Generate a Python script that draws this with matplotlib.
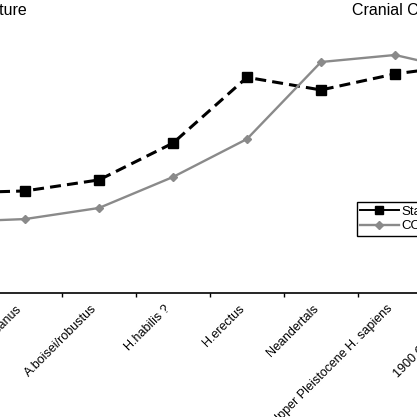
import numpy as np
import matplotlib
matplotlib.use("Agg")
import matplotlib.pyplot as plt
from matplotlib.lines import Line2D

plt.rcParams['font.family'] = ['Liberation Sans', 'DejaVu Sans']

# hominin groups along the x axis
groups = ["A.afarensis", "A.africanus", "A.boisei/robustus", "H.habilis ?",
          "H.erectus", "Neandertals", "Upper Pleistocene H. sapiens",
          "1900 Caucasians"]

# stature (cm) - left axis
stature = [118.0, 118.8, 123.0, 137.0, 162.0, 157.2, 163.3, 167.0]
# cranial capacity (cc) - right axis
cc = [486, 506, 582, 794, 1054, 1581, 1629, 1513]

W, H = 417, 417
fig = plt.figure(figsize=(W / 100, H / 100), dpi=100)

# axes reach past the figure edges (the picture is a crop)
left_px, right_px, bot_px, top_px = -86, 506, 293, 30
ax = fig.add_axes([left_px / W, 1 - bot_px / H,
                   (right_px - left_px) / W, (bot_px - top_px) / H])
ax2 = ax.twinx()

x = np.arange(len(groups))

ax.plot(x, stature, color="black", lw=2.2, dashes=[3.6, 2.0],
        marker="s", ms=6.5, mfc="black", mec="black", zorder=3)
ax2.plot(x, cc, color="#8a8a8a", lw=1.7, marker="D", ms=4.5,
         mfc="#8a8a8a", mec="#8a8a8a", zorder=3)

ax.set_xlim(-0.5, len(groups) - 0.5)
ax.set_ylim(80, 180)
ax2.set_ylim(0, 1800)

for a in (ax, ax2):
    for s in ("top", "left", "right", "bottom"):
        a.spines[s].set_visible(False)
ax.spines["bottom"].set_visible(True)
ax.spines["bottom"].set_linewidth(1.2)

ax.set_yticks([])
ax2.set_yticks([])

ax.set_xticks(np.arange(-0.5, len(groups), 1.0))
ax.set_xticklabels([])
ax.tick_params(axis="x", which="major", length=3, width=1, direction="out")
ax.set_xticks(x, minor=True)
ax.set_xticklabels(groups, minor=True, rotation=45, ha="right",
                   fontsize=9)
ax.tick_params(axis="x", which="minor", length=0, pad=7)

fig.text(27 / W, 1 - 15 / H, "Stature", ha="right", va="baseline",
         fontsize=11.5)
fig.text(352 / W, 1 - 15 / H, "Cranial Capacity", ha="left",
         va="baseline", fontsize=11.5)

handles = [Line2D([], [], color="black", lw=1.4, marker="s", ms=6),
           Line2D([], [], color="#8a8a8a", lw=1.7, marker="D", ms=4.5)]
leg = fig.legend(handles, ["Stature", "CC"], loc="upper left",
                 bbox_to_anchor=(357 / W, 1 - 202 / H), fontsize=9.5,
                 handlelength=2.9, handletextpad=0.2, labelspacing=0.2,
                 borderpad=0.25, borderaxespad=0, fancybox=False,
                 edgecolor="black", framealpha=1)
leg.get_frame().set_linewidth(1.0)

fig.savefig("out.png", dpi=100)
